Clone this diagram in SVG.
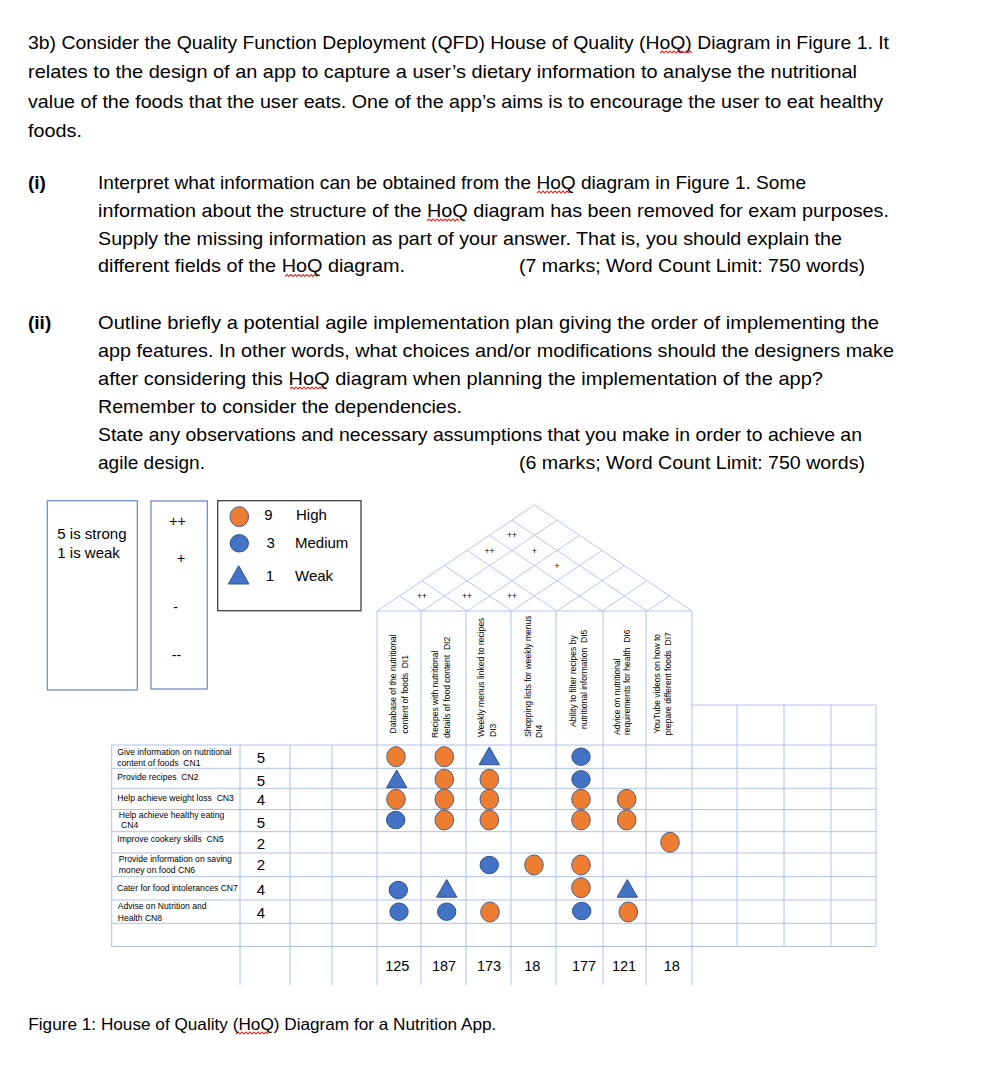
<svg xmlns="http://www.w3.org/2000/svg" xmlns:xlink="http://www.w3.org/1999/xlink" width="986" height="1076" viewBox="0 0 986 1076">
<style>
text{font-family:"Liberation Sans",Arial,sans-serif;fill:#000}
.p{font-size:19px}
.pb{font-size:19px;font-weight:bold}
.cap{font-size:16.5px}
.lg{font-size:15px}
.pm{font-size:14px;text-anchor:middle}
.rl{font-size:8.6px}
.ch{font-size:8.5px}
.imp{font-size:15px;text-anchor:middle}
.tot{font-size:14.5px;text-anchor:middle}
.rm{font-size:8.5px;text-anchor:middle}
.gl{stroke:#AFC1E8;stroke-width:1;fill:none}
.rf{stroke:#B7C8EA;stroke-width:1;fill:none}
.hi{fill:#ED7D31;stroke:#4F5F86;stroke-width:1}
.md{fill:#4472C4;stroke:#2F528F;stroke-width:1}
.sq{stroke:#E0302A;stroke-width:1.1;fill:none}
</style>
<defs>
<ellipse id="oh" rx="9.3" ry="10" class="hi"/>
<ellipse id="om" rx="9.2" ry="8.7" class="md"/>
<polygon id="tw" points="0,-9 10.2,8.7 -10.2,8.7" class="md"/>
<path id="wv" class="sq" d="M0,0 l2-2l2 2l2-2l2 2l2-2l2 2l2-2l2 2l2-2l2 2l2-2l2 2l2-2l2 2l2-2l2 2"/>
</defs>
<rect width="986" height="1076" fill="#fff"/>

<g id="question">
<text class="p" x="28" y="48.5" textLength="861" lengthAdjust="spacingAndGlyphs">3b) Consider the Quality Function Deployment (QFD) House of Quality (HoQ) Diagram in Figure 1. It</text>
<text class="p" x="28" y="78" textLength="829" lengthAdjust="spacingAndGlyphs">relates to the design of an app to capture a user’s dietary information to analyse the nutritional</text>
<text class="p" x="28" y="107.5" textLength="855" lengthAdjust="spacingAndGlyphs">value of the foods that the user eats. One of the app’s aims is to encourage the user to eat healthy</text>
<text class="p" x="28" y="137" textLength="54" lengthAdjust="spacingAndGlyphs">foods.</text>
<text class="pb" x="28" y="188.5">(i)</text>
<text class="p" x="98" y="188.5" textLength="708" lengthAdjust="spacingAndGlyphs">Interpret what information can be obtained from the HoQ diagram in Figure 1. Some</text>
<text class="p" x="98" y="216.5" textLength="791" lengthAdjust="spacingAndGlyphs">information about the structure of the HoQ diagram has been removed for exam purposes.</text>
<text class="p" x="98" y="244.5" textLength="744" lengthAdjust="spacingAndGlyphs">Supply the missing information as part of your answer. That is, you should explain the</text>
<text class="p" x="98" y="272" textLength="307" lengthAdjust="spacingAndGlyphs">different fields of the HoQ diagram.</text>
<text class="p" x="519" y="272" textLength="346" lengthAdjust="spacingAndGlyphs">(7 marks; Word Count Limit: 750 words)</text>
<text class="pb" x="28" y="328.5">(ii)</text>
<text class="p" x="98" y="328.5" textLength="781" lengthAdjust="spacingAndGlyphs">Outline briefly a potential agile implementation plan giving the order of implementing the</text>
<text class="p" x="98" y="356.5" textLength="796" lengthAdjust="spacingAndGlyphs">app features. In other words, what choices and/or modifications should the designers make</text>
<text class="p" x="98" y="384.5" textLength="725" lengthAdjust="spacingAndGlyphs">after considering this HoQ diagram when planning the implementation of the app?</text>
<text class="p" x="98" y="413" textLength="364" lengthAdjust="spacingAndGlyphs">Remember to consider the dependencies.</text>
<text class="p" x="98" y="441" textLength="764" lengthAdjust="spacingAndGlyphs">State any observations and necessary assumptions that you make in order to achieve an</text>
<text class="p" x="98" y="469" textLength="107" lengthAdjust="spacingAndGlyphs">agile design.</text>
<text class="p" x="519" y="469" textLength="346" lengthAdjust="spacingAndGlyphs">(6 marks; Word Count Limit: 750 words)</text>
</g>

<g id="spellmarks">
<use href="#wv" x="660" y="53"/>
<use href="#wv" x="537" y="193"/>
<use href="#wv" x="427" y="221"/>
<use href="#wv" x="285" y="276.5"/>
<use href="#wv" x="290" y="389"/>
<use href="#wv" x="236" y="1034"/>
</g>

<g id="legend-importance">
<rect x="47.3" y="500.7" width="90" height="189.3" fill="none" stroke="#6F8FCC" stroke-width="1.3"/>
<text class="lg" x="57.3" y="539.3">5 is strong</text>
<text class="lg" x="57.3" y="558.3">1 is weak</text>
</g>

<g id="legend-correlation">
<rect x="151" y="501" width="56.3" height="188" fill="none" stroke="#6F8FCC" stroke-width="1.3"/>
<text class="pm" x="177.5" y="526">++</text>
<text class="pm" x="181" y="563">+</text>
<text class="pm" x="175.5" y="612">-</text>
<text class="pm" x="176.5" y="660">--</text>
</g>

<g id="legend-relationship">
<rect x="217.7" y="500.7" width="143.3" height="110" fill="none" stroke="#404040" stroke-width="1.3"/>
<use href="#oh" x="239.3" y="516.7"/>
<text class="lg" x="268.3" y="520" text-anchor="middle">9</text>
<text class="lg" x="296" y="520">High</text>
<use href="#om" x="239.3" y="543.3"/>
<text class="lg" x="270.7" y="548.3" text-anchor="middle">3</text>
<text class="lg" x="295" y="548.3">Medium</text>
<polygon points="238.7,565.7 249,584 228.3,584" class="md"/>
<text class="lg" x="270" y="580.7" text-anchor="middle">1</text>
<text class="lg" x="295" y="580.7">Weak</text>
</g>

<g id="roof">
<path class="rf" d="M377,611 L534.5,505 M422,611 L557,520.14 M467,611 L579.5,535.29 M512,611 L602,550.43 M557,611 L624.5,565.57 M602,611 L647,580.71 M647,611 L669.5,595.86 M422,611 L399.5,595.86 M467,611 L422,580.71 M512,611 L444.5,565.57 M557,611 L467,550.43 M602,611 L489.5,535.29 M647,611 L512,520.14 M692,611 L534.5,505 M377,611 L692,611"/>
<text class="rm" x="422" y="599">++</text>
<text class="rm" x="467" y="599">++</text>
<text class="rm" x="512" y="599">++</text>
<text class="rm" x="489.5" y="553.5">++</text>
<text class="rm" x="512" y="538.4">++</text>
<text class="rm" x="534.5" y="553.5">+</text>
<text class="rm" x="557" y="568.7">+</text>
</g>

<g id="grid">
<path class="gl" d="M111.7,745 H876 M111.7,768.3 H876 M111.7,788.3 H876 M111.7,809.5 H876 M111.7,831.7 H876 M111.7,853 H876 M111.7,876.7 H876 M111.7,900 H876 M111.7,923.3 H876 M111.7,946.5 H876 M692,705 H876"/>
<path class="gl" d="M111.7,745 V946.5 M240,745 V985 M290,745 V985 M332,745 V985 M377,611 V985 M421,611 V985 M466,611 V985 M511,611 V985 M556,611 V985 M603,611 V985 M646,611 V985 M692,611 V985 M737,705 V946.5 M784,705 V946.5 M831,705 V946.5 M876,705 V946.5"/>
</g>

<g id="design-requirements">
<text class="ch" transform="translate(396,733.5) rotate(-90)">Database of the nutritional</text>
<text class="ch" transform="translate(408,733.5) rotate(-90)" xml:space="preserve">content of foods  DI1</text>
<text class="ch" transform="translate(438,738) rotate(-90)">Recipes with nutritional</text>
<text class="ch" transform="translate(450,738) rotate(-90)" xml:space="preserve">details of food content  DI2</text>
<text class="ch" transform="translate(484,737) rotate(-90)">Weekly menus linked to recipes</text>
<text class="ch" transform="translate(496,737) rotate(-90)">DI3</text>
<text class="ch" transform="translate(531,737) rotate(-90)">Shopping lists for weekly menus</text>
<text class="ch" transform="translate(541.5,738) rotate(-90)">DI4</text>
<text class="ch" transform="translate(576,727) rotate(-90)">Ability to filter recipes by</text>
<text class="ch" transform="translate(587,729) rotate(-90)" xml:space="preserve">nutritional information  DI5</text>
<text class="ch" transform="translate(620,735) rotate(-90)">Advice on nutritional</text>
<text class="ch" transform="translate(630,735) rotate(-90)" xml:space="preserve">requirements for health  DI6</text>
<text class="ch" transform="translate(659.5,733.5) rotate(-90)">YouTube videos on how to</text>
<text class="ch" transform="translate(671,735.5) rotate(-90)" xml:space="preserve">prepare different foods  DI7</text>
</g>

<g id="customer-needs">
<text class="rl" x="117.3" y="755">Give information on nutritional</text>
<text class="rl" x="117.3" y="766" xml:space="preserve">content of foods  CN1</text>
<text class="rl" x="117.3" y="780" xml:space="preserve">Provide recipes  CN2</text>
<text class="rl" x="117.3" y="800.7" xml:space="preserve">Help achieve weight loss  CN3</text>
<text class="rl" x="118.7" y="817.7">Help achieve healthy eating</text>
<text class="rl" x="121" y="828.3">CN4</text>
<text class="rl" x="117.3" y="842.3" xml:space="preserve">Improve cookery skills  CN5</text>
<text class="rl" x="118.7" y="861.7">Provide information on saving</text>
<text class="rl" x="118.7" y="872.7">money on food CN6</text>
<text class="rl" x="117" y="890.7">Cater for food intolerances CN7</text>
<text class="rl" x="117.7" y="909.3">Advise on Nutrition and</text>
<text class="rl" x="117.7" y="920.7">Health CN8</text>
</g>

<g id="importance">
<text class="imp" x="261" y="762.7">5</text>
<text class="imp" x="261" y="786">5</text>
<text class="imp" x="261" y="805.4">4</text>
<text class="imp" x="261" y="828">5</text>
<text class="imp" x="261" y="848.7">2</text>
<text class="imp" x="261" y="870.4">2</text>
<text class="imp" x="261" y="894.7">4</text>
<text class="imp" x="261" y="918">4</text>
</g>

<g id="relationships">
<use href="#oh" x="396" y="756.7"/>
<use href="#oh" x="444.3" y="756.7"/>
<use href="#tw" x="489.3" y="756"/>
<use href="#om" x="581" y="756.7"/>

<use href="#tw" x="396.7" y="779"/>
<use href="#oh" x="444.3" y="779.3"/>
<use href="#oh" x="489.3" y="779.3"/>
<use href="#om" x="581" y="779.3"/>

<use href="#oh" x="396" y="799.3"/>
<use href="#oh" x="444.3" y="799.3"/>
<use href="#oh" x="489.3" y="799.3"/>
<use href="#oh" x="581" y="799.3"/>
<use href="#oh" x="626.7" y="799.3"/>

<use href="#om" x="395.7" y="820"/>
<use href="#oh" x="444.3" y="820"/>
<use href="#oh" x="489.3" y="820"/>
<use href="#oh" x="581" y="820"/>
<use href="#oh" x="626.7" y="820"/>

<use href="#oh" x="670" y="842.3"/>

<use href="#om" x="489.3" y="865"/>
<use href="#oh" x="534" y="865"/>
<use href="#oh" x="581" y="865"/>

<use href="#om" x="398.3" y="890"/>
<use href="#tw" x="446.7" y="888.5"/>
<use href="#oh" x="581" y="887.7"/>
<use href="#tw" x="627.3" y="888.5"/>

<use href="#om" x="399" y="911.7"/>
<use href="#om" x="446.7" y="911.7"/>
<use href="#oh" x="490" y="912"/>
<use href="#om" x="581.7" y="911"/>
<use href="#oh" x="628.3" y="912"/>
</g>

<g id="totals">
<text class="tot" x="397.3" y="970.5">125</text>
<text class="tot" x="444" y="970.5">187</text>
<text class="tot" x="489" y="970.5">173</text>
<text class="tot" x="532.3" y="970.5">18</text>
<text class="tot" x="584" y="970.5">177</text>
<text class="tot" x="624" y="970.5">121</text>
<text class="tot" x="671.7" y="970.5">18</text>
</g>

<g id="caption">
<text class="cap" x="28.3" y="1029.5" textLength="468" lengthAdjust="spacingAndGlyphs">Figure 1: House of Quality (HoQ) Diagram for a Nutrition App.</text>
</g>
</svg>
